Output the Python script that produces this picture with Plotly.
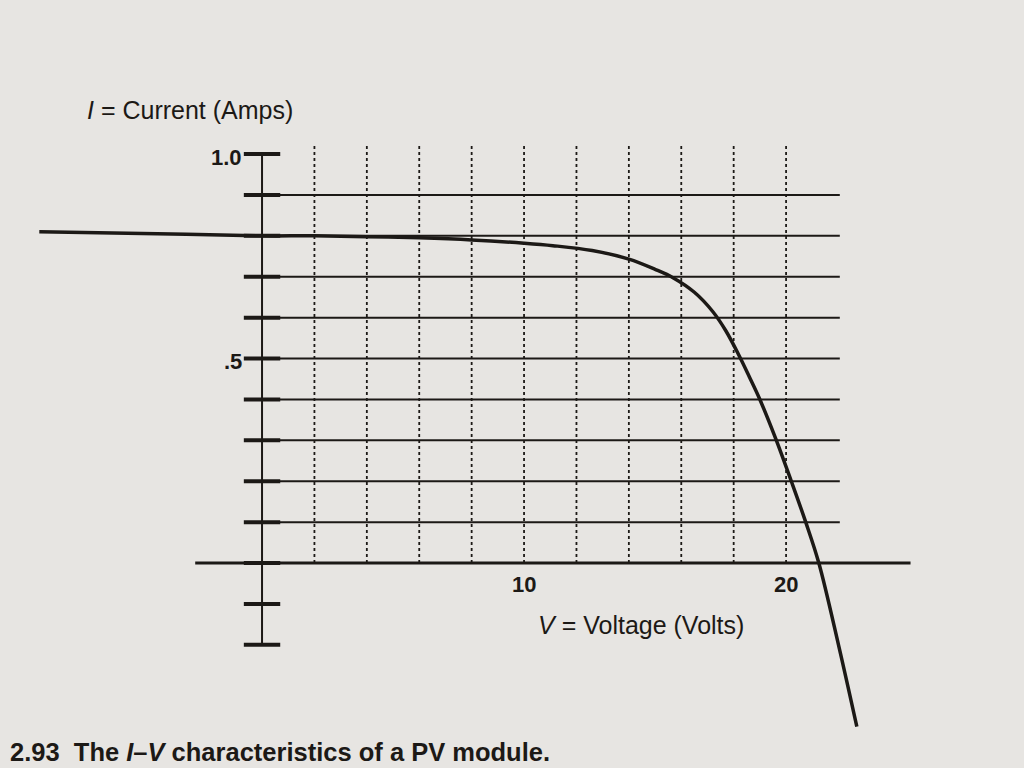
import plotly.graph_objects as go

# I-V characteristic of the PV module
voltage = [-8.5, -4, 0, 2, 4, 6, 8, 10, 11.1, 12.6, 14, 15, 15.7, 16.5, 17.2,
           17.7, 18.2, 18.6, 19.0, 19.6, 20.2, 20.75, 21.25, 22.0, 22.7]
current = [0.81, 0.805, 0.80, 0.80, 0.798, 0.795, 0.79, 0.782, 0.776, 0.764, 0.743,
           0.718, 0.697, 0.662, 0.615, 0.568, 0.508, 0.455, 0.40, 0.305, 0.20, 0.10,
           0.0, -0.20, -0.40]

# grid and ticks
grid_currents = [0.1, 0.2, 0.3, 0.4, 0.5, 0.6, 0.7, 0.8, 0.9]
grid_voltages = [2, 4, 6, 8, 10, 12, 14, 16, 18, 20]
y_ticks = [-0.2, -0.1, 0.0, 0.1, 0.2, 0.3, 0.4, 0.5, 0.6, 0.7, 0.8, 0.9, 1.0]
y_tick_values = [1.0, 0.5]
y_tick_labels = ["1.0", ".5"]
x_tick_values = [10, 20]
x_tick_labels = ["10", "20"]

INK = "#1c1916"
PAPER = "#e7e5e2"
FONT = "Liberation Sans, Arial, sans-serif"

fig = go.Figure()

# solid horizontal grid lines
gx, gy = [], []
for c in grid_currents:
    gx += [0, 22.05, None]
    gy += [c, c, None]
fig.add_trace(go.Scatter(x=gx, y=gy, mode="lines",
                         line=dict(color=INK, width=2), hoverinfo="skip"))

# dashed vertical grid lines
vx, vy = [], []
for v in grid_voltages:
    vx += [v, v, None]
    vy += [0, 1.02, None]
fig.add_trace(go.Scatter(x=vx, y=vy, mode="lines",
                         line=dict(color=INK, width=1.8, dash="3px,3px"),
                         hoverinfo="skip"))

# axes
fig.add_trace(go.Scatter(x=[-2.55, 24.75], y=[0, 0], mode="lines",
                         line=dict(color=INK, width=3), hoverinfo="skip"))
fig.add_trace(go.Scatter(x=[0, 0], y=[min(y_ticks), max(y_ticks)], mode="lines",
                         line=dict(color=INK, width=2), hoverinfo="skip"))
fig.add_trace(go.Scatter(x=[0] * len(y_ticks), y=y_ticks, mode="markers",
                         marker=dict(symbol="line-ew", size=26,
                                     line=dict(color=INK, width=4)),
                         hoverinfo="skip"))

# the I-V curve
fig.add_trace(go.Scatter(x=voltage, y=current, mode="lines",
                         line=dict(color=INK, width=3.5, shape="spline", smoothing=1.0),
                         hoverinfo="skip"))

# tick labels
for val, lab in zip(y_tick_values, y_tick_labels):
    fig.add_annotation(x=-0.7, y=val, xref="x", yref="y", text="<b>%s</b>" % lab,
                       showarrow=False, xanchor="right", yanchor="middle", yshift=-3,
                       font=dict(family=FONT, size=22, color=INK))
for val, lab in zip(x_tick_values, x_tick_labels):
    fig.add_annotation(x=val, y=0, xref="x", yref="y", text="<b>%s</b>" % lab,
                       showarrow=False, xanchor="center", yanchor="top", yshift=-7,
                       font=dict(family=FONT, size=22, color=INK))

# axis titles and caption
fig.add_annotation(x=85 / 1024, y=1 - 110 / 768, xref="paper", yref="paper",
                   text="<i>I</i> = Current (Amps)", showarrow=False,
                   xanchor="left", yanchor="middle",
                   font=dict(family=FONT, size=25, color=INK))
fig.add_annotation(x=536 / 1024, y=1 - 625 / 768, xref="paper", yref="paper",
                   text="<i>V</i> = Voltage (Volts)", showarrow=False,
                   xanchor="left", yanchor="middle",
                   font=dict(family=FONT, size=25, color=INK))
fig.add_annotation(x=8 / 1024, y=0, xref="paper", yref="paper",
                   text="<b>2.93&nbsp;&nbsp;The <i>I</i>–<i>V</i> characteristics of a PV module.</b>",
                   showarrow=False, xanchor="left", yanchor="bottom",
                   font=dict(family=FONT, size=25.5, color=INK))

fig.update_layout(
    width=1024, height=768,
    margin=dict(l=0, r=0, t=0, b=0),
    paper_bgcolor=PAPER, plot_bgcolor=PAPER,
    showlegend=False,
    xaxis=dict(range=[-10.0, 29.08], visible=False, fixedrange=True),
    yaxis=dict(range=[-0.501, 1.3765], visible=False, fixedrange=True),
)

fig.write_html("out.html",
               config={"displayModeBar": False},
               post_script="document.body.style.margin='0';"
                           "document.body.style.overflow='hidden';")
